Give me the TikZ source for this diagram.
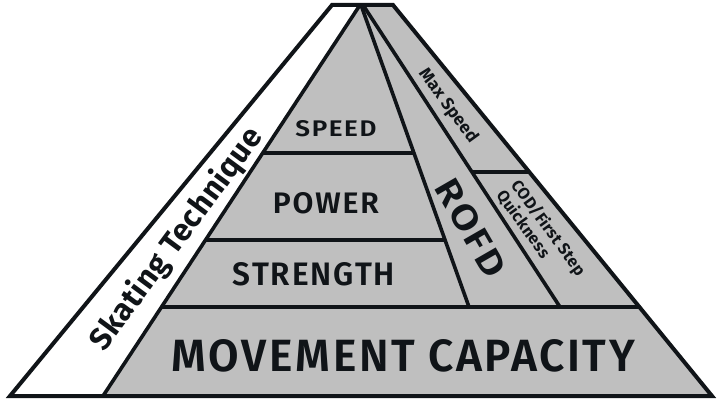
\documentclass[tikz,border=0pt]{standalone}
\usepackage{fontspec}
\setmainfont{Fira Sans}[BoldFont={Fira Sans SemiBold}, LetterSpace=6]
\newfontfamily\mixfont{Fira Sans}[LetterSpace=2]
\usepackage{graphicx}
\definecolor{pgray}{RGB}{191,191,191}
\definecolor{pline}{RGB}{16,20,24}
\tikzset{
  edge/.style={draw=pline, line width=3.6pt},
  outline/.style={draw=pline, line width=4pt, line join=miter},
  lbl/.style={inner sep=0pt, text=pline},
}
\newcommand\fitbox[3]{\resizebox{#1}{#2}{\bfseries #3}}
\newcommand\fitmix[2]{\resizebox{#1}{!}{\mixfont\bfseries #2}}
\begin{document}
\begin{tikzpicture}[x=1pt,y=-1pt]
\fill[white] (0,0) rectangle (720,406);
\useasboundingbox (0,0) rectangle (720,406);
% outer corners
\coordinate (TL) at (332,5);
\coordinate (TR) at (393,5);
\coordinate (BR) at (712,396);
\coordinate (BL) at (10,396);
% slanted inner lines
\coordinate (A0) at (360,5);
\coordinate (B0) at (103,396);
\coordinate (A1) at (361,5);
\coordinate (B1) at (469,307);
\coordinate (A2) at (363,5);
\coordinate (B2) at (560,307);
% horizontal line ends
\coordinate (H1a) at (262.7,153);
\coordinate (H1b) at (413.9,153);
\coordinate (H2a) at (205.5,240);
\coordinate (H2b) at (445.0,240);
\coordinate (H3a) at (161.5,307);
\coordinate (H3b) at (639.4,307);
\coordinate (H4a) at (471.9,172);
\coordinate (H4b) at (529.2,172);
% fills
\fill[pgray] (A0) -- (TR) -- (BR) -- (B0) -- cycle;
% lines
\draw[edge] (A0) -- (B0);
\draw[edge] (A1) -- (B1);
\draw[edge] (A2) -- (B2);
\draw[edge] (H1a) -- (H1b);
\draw[edge] (H2a) -- (H2b);
\draw[edge] (H3a) -- (H3b);
\draw[edge] (H4a) -- (H4b);
\draw[outline] (TL) -- (TR) -- (BR) -- (BL) -- cycle;
% labels
\node[lbl] (speed) at (336,129) {\fitbox{81pt}{16pt}{SPEED}};
\node[lbl] (power) at (326,203.5) {\fitbox{106pt}{21pt}{POWER}};
\node[lbl] (strength) at (314,274.5) {\fitbox{162pt}{23pt}{STRENGTH}};
\node[lbl] (mc) at (403.5,356) {\fitbox{463pt}{32pt}{MOVEMENT CAPACITY}};
\node[lbl, rotate=-60] (rofd) at (471,228) {\fitbox{108pt}{25pt}{ROFD}};
\node[lbl, rotate=-54] (maxs) at (448,106) {\fitmix{88pt}{Max Speed}};
\node[lbl, rotate=53.5] (skate) at (177,239) {\fitmix{268pt}{Skating Technique}};
\node[lbl, rotate=-54] (cod) at (540,234) {\resizebox{114pt}{!}{\mixfont\bfseries\fontsize{10}{10}\selectfont\begin{tabular}{@{}l@{}}COD/First Step\\Quickness\end{tabular}}};
\end{tikzpicture}
\end{document}
